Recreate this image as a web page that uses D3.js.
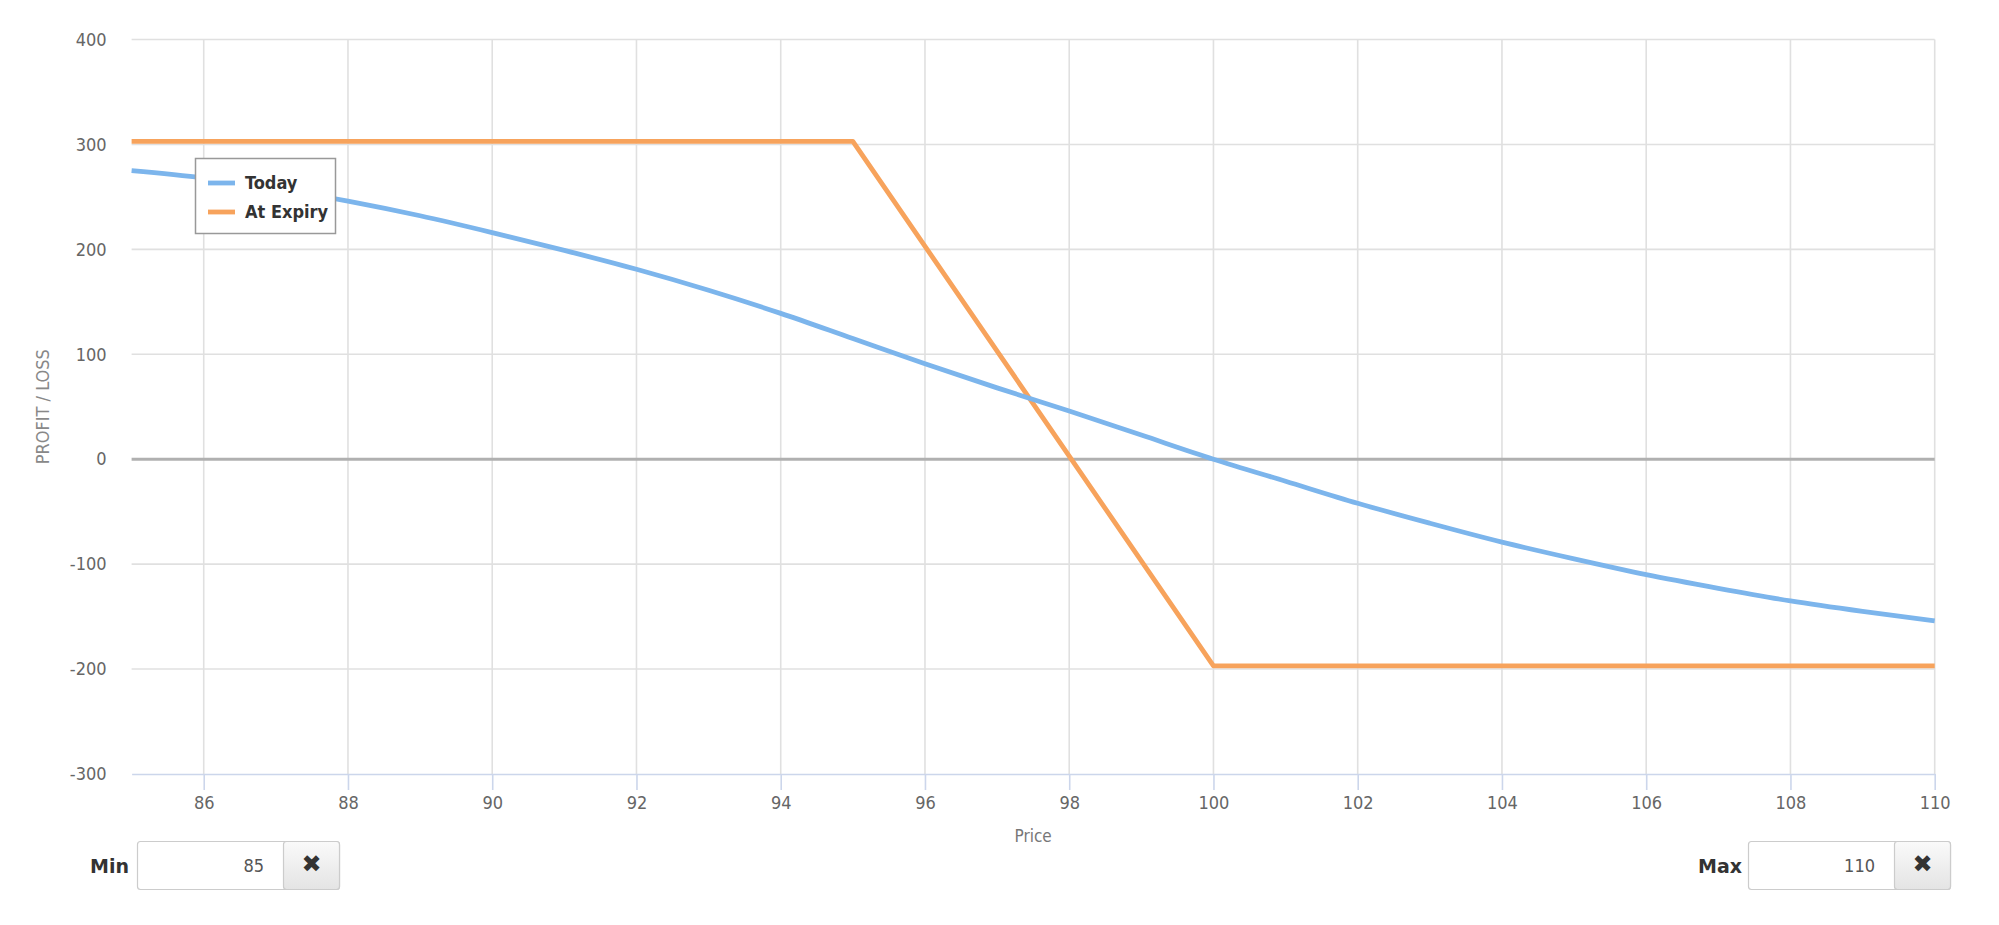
<!DOCTYPE html>
<html>
<head>
<meta charset="utf-8">
<script src="https://cdn.jsdelivr.net/npm/d3@7"></script>
<style>
  html, body { margin: 0; padding: 0; background: #fff; }
  svg { display: block; }
</style>
</head>
<body>
<svg id="chart" width="1999" height="925"></svg>
<script>
// ---- data ----
const prices = [85,86,87,88,89,90,91,92,93,94,95,96,97,98,99,100,101,102,103,104,105,106,107,108,109,110];
const todayPL = [275,268,258,246,232,216,199,181,161,139,115,91,68,46,23,0,-21,-42,-61,-79,-95,-110,-123,-135,-145,-154];
const expiryPrices = [85,95,100,110];
const expiryPL = [303,303,-197,-197];
const xTicks = [86,88,90,92,94,96,98,100,102,104,106,108,110];
const yTicks = [-300,-200,-100,0,100,200,300,400];
const seriesNames = ["Today","At Expiry"];
const seriesColors = ["#7cb5ec","#f7a35c"];
const minValue = "85", maxValue = "110";

const FONT = '"DejaVu Sans Condensed", "DejaVu Sans", sans-serif';
const svg = d3.select("#chart");
const x = d3.scaleLinear().domain([85,110]).range([131.6,1934.7]);
const y = d3.scaleLinear().domain([-300,400]).range([774,39.5]);
const fmt = d => String(d);

// horizontal grid
svg.append("g").selectAll("line").data(yTicks.filter(d => d !== 0 && d !== -300)).join("line")
  .attr("x1", x(85)).attr("x2", x(110))
  .attr("y1", d => y(d)).attr("y2", d => y(d))
  .attr("stroke", "#e0e0e0").attr("stroke-width", 1.6);
// vertical grid
svg.append("g").selectAll("line").data(xTicks).join("line")
  .attr("x1", d => x(d)).attr("x2", d => x(d))
  .attr("y1", y(400)).attr("y2", y(-300))
  .attr("stroke", "#e0e0e0").attr("stroke-width", 1.6);

// x axis
const xAxis = svg.append("g").attr("transform", `translate(0,${y(-300)})`)
  .call(d3.axisBottom(x).tickValues(xTicks).tickFormat(fmt).tickSize(16).tickPadding(10).tickSizeOuter(0));
xAxis.select(".domain").attr("stroke", "#ccd6eb").attr("stroke-width", 1.6);
xAxis.selectAll(".tick line").attr("stroke", "#ccd6eb").attr("stroke-width", 1.6);
xAxis.selectAll(".tick text").attr("fill", "#666").style("font-family", FONT).style("font-size", "18px").attr("dy", "0.5em");

// y axis labels
const yAxis = svg.append("g").attr("transform", `translate(${x(85)},0)`)
  .call(d3.axisLeft(y).tickValues(yTicks).tickFormat(fmt).tickSize(0).tickPadding(25));
yAxis.select(".domain").remove();
yAxis.selectAll(".tick text").attr("fill", "#666").style("font-family", FONT).style("font-size", "18px");

// zero line
svg.append("line").attr("x1", x(85)).attr("x2", x(110)).attr("y1", y(0)).attr("y2", y(0))
  .attr("stroke", "#b0b0b0").attr("stroke-width", 3);

// axis titles
svg.append("text").attr("transform", `translate(43,${(y(400)+y(-300))/2}) rotate(-90)`)
  .attr("text-anchor", "middle").attr("dy", "0.35em").attr("fill", "#888").style("font-family", FONT).style("font-size", "18px")
  .text("PROFIT / LOSS");
svg.append("text").attr("x", (x(85)+x(110))/2).attr("y", 842)
  .attr("text-anchor", "middle").attr("fill", "#777").style("font-family", FONT).style("font-size", "17px")
  .text("Price");

// lines
const line = d3.line().x(d => x(d[0])).y(d => y(d[1]));
const line2 = d3.line().x(d => x(d[0])).y(d => y(d[1])).curve(d3.curveMonotoneX);
svg.append("path").datum(expiryPrices.map((p,i) => [p, expiryPL[i]]))
  .attr("d", line).attr("fill", "none").attr("stroke", seriesColors[1]).attr("stroke-width", 4.8).attr("stroke-linejoin", "round");
svg.append("path").datum(prices.map((p,i) => [p, todayPL[i]]))
  .attr("d", line2).attr("fill", "none").attr("stroke", seriesColors[0]).attr("stroke-width", 4.8).attr("stroke-linejoin", "round");

// legend
const lg = svg.append("g");
lg.append("rect").attr("x", 195.5).attr("y", 158.5).attr("width", 140).attr("height", 75)
  .attr("fill", "#fff").attr("stroke", "#999").attr("stroke-width", 1.5);
seriesNames.forEach((n, i) => {
  const cy = 183 + i * 29;
  lg.append("line").attr("x1", 208).attr("x2", 235).attr("y1", cy).attr("y2", cy)
    .attr("stroke", seriesColors[i]).attr("stroke-width", 4.8);
  lg.append("text").attr("x", 245).attr("y", cy).attr("dy", "0.35em")
    .attr("fill", "#333").style("font-family", FONT).style("font-size", "18px").style("font-weight", "bold").text(n);
});

// Min / Max controls
const defs = svg.append("defs");
const grad = defs.append("linearGradient").attr("id", "btnGrad").attr("x1", 0).attr("x2", 0).attr("y1", 0).attr("y2", 1);
grad.append("stop").attr("offset", "0%").attr("stop-color", "#fafafa");
grad.append("stop").attr("offset", "100%").attr("stop-color", "#e4e4e4");
function control(labelRight, boxX, label, value) {
  const g = svg.append("g");
  g.append("text").attr("x", labelRight).attr("y", 866).attr("dy", "0.35em").attr("text-anchor", "end")
    .attr("fill", "#333").style("font-family", "'DejaVu Sans', sans-serif").style("font-size", "19px").style("font-weight", "bold").text(label);
  g.append("rect").attr("x", boxX + 0.5).attr("y", 841.5).attr("width", 202).attr("height", 48).attr("rx", 3)
    .attr("fill", "#fff").attr("stroke", "#ccc").attr("stroke-width", 1.2);
  g.append("rect").attr("x", boxX + 146.5).attr("y", 841.5).attr("width", 56).attr("height", 48).attr("rx", 3)
    .attr("fill", "url(#btnGrad)").attr("stroke", "#ccc").attr("stroke-width", 1.2);
  g.append("text").attr("x", boxX + 127).attr("y", 866).attr("dy", "0.35em").attr("text-anchor", "end")
    .attr("fill", "#555").style("font-family", FONT).style("font-size", "18px").text(value);
  g.append("text").attr("x", boxX + 174.5).attr("y", 864).attr("dy", "0.35em").attr("text-anchor", "middle")
    .attr("fill", "#333").style("font-family", "'DejaVu Sans', sans-serif").style("font-size", "24px").text("✖");
}
control(129, 137, "Min", minValue);
control(1742, 1748, "Max", maxValue);
</script>
</body>
</html>
